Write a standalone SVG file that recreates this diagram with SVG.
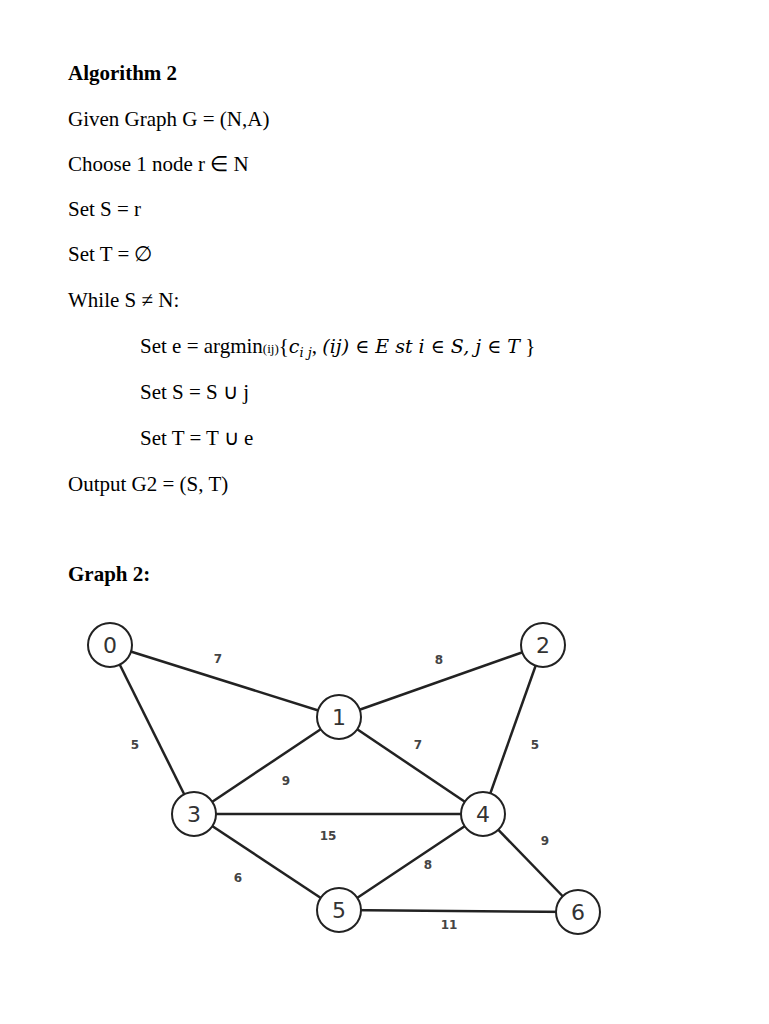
<svg xmlns="http://www.w3.org/2000/svg" width="769" height="1024" viewBox="0 0 769 1024">
<style>
.t{font-family:"Liberation Serif",serif;font-size:21px;fill:#000}
.b{font-weight:bold}
.m{font-family:"DejaVu Serif","Liberation Serif",serif;font-style:italic;font-size:19px}
.n circle{fill:#fff;stroke:#222;stroke-width:2}
.n text{font-family:"DejaVu Sans",sans-serif;font-size:22px;fill:#333;text-anchor:middle}
.e line{stroke:#222;stroke-width:2.5}
.w{font-family:"DejaVu Sans",sans-serif;font-size:12px;font-weight:bold;fill:#444;text-anchor:middle}
</style>
<rect width="769" height="1024" fill="#fff"/>
<text class="t b" x="68" y="80">Algorithm 2</text>
<text class="t" x="68" y="126">Given Graph G = (N,A)</text>
<text class="t" x="68" y="171">Choose 1 node r ∈ N</text>
<text class="t" x="68" y="216">Set S = r</text>
<text class="t" x="68" y="261">Set T = ∅</text>
<text class="t" x="68" y="307">While S ≠ N:</text>
<text class="t" x="140" y="353">Set e = argmin<tspan font-size="13">(ij)</tspan>{<tspan class="m">c<tspan font-size="13" dy="4">i j</tspan></tspan><tspan dy="-4">, </tspan><tspan class="m">(ij) ∈ E st i ∈ S, j  ∈ T</tspan>   }</text>
<text class="t" x="140" y="399">Set S = S ∪ j</text>
<text class="t" x="140" y="445">Set T = T ∪ e</text>
<text class="t" x="68" y="491">Output G2 = (S, T)</text>
<text class="t b" x="68" y="581">Graph 2:</text>
<g id="edges" class="e">
<line x1="110" y1="645" x2="339" y2="717"/>
<line x1="110" y1="645" x2="194" y2="814"/>
<line x1="543" y1="645" x2="339" y2="717"/>
<line x1="543" y1="645" x2="483" y2="814"/>
<line x1="339" y1="717" x2="483" y2="814"/>
<line x1="339" y1="717" x2="194" y2="814"/>
<line x1="194" y1="814" x2="483" y2="814"/>
<line x1="194" y1="814" x2="339" y2="910"/>
<line x1="483" y1="814" x2="339" y2="910"/>
<line x1="483" y1="814" x2="578" y2="912"/>
<line x1="339" y1="910" x2="578" y2="912"/>
</g>
<g id="weights" class="w">
<text x="218" y="663">7</text>
<text x="439" y="664">8</text>
<text x="135" y="749">5</text>
<text x="418" y="749">7</text>
<text x="535" y="749">5</text>
<text x="286" y="785">9</text>
<text x="328" y="840">15</text>
<text x="428" y="869">8</text>
<text x="545" y="845">9</text>
<text x="238" y="882">6</text>
<text x="449" y="929">11</text>
</g>
<g id="node0" class="n"><circle cx="110" cy="645" r="22"/><text x="110" y="653">0</text></g>
<g id="node1" class="n"><circle cx="339" cy="717" r="22"/><text x="339" y="725">1</text></g>
<g id="node2" class="n"><circle cx="543" cy="645" r="22"/><text x="543" y="653">2</text></g>
<g id="node3" class="n"><circle cx="194" cy="814" r="22"/><text x="194" y="822">3</text></g>
<g id="node4" class="n"><circle cx="483" cy="814" r="22"/><text x="483" y="822">4</text></g>
<g id="node5" class="n"><circle cx="339" cy="910" r="22"/><text x="339" y="918">5</text></g>
<g id="node6" class="n"><circle cx="578" cy="912" r="22"/><text x="578" y="920">6</text></g>
</svg>
